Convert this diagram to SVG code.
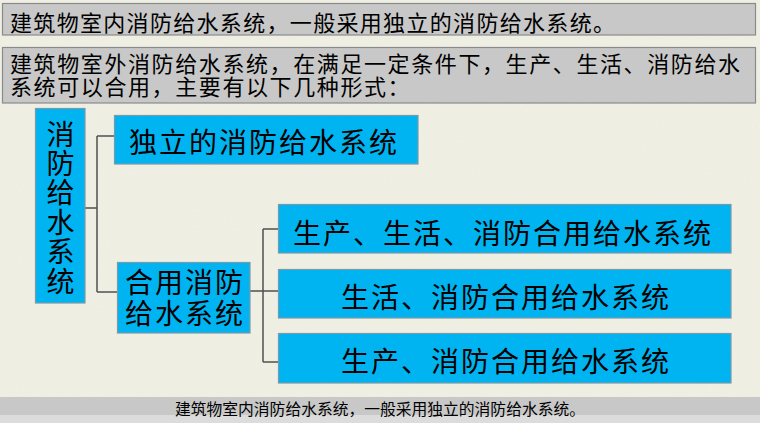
<svg xmlns="http://www.w3.org/2000/svg" width="760" height="423" viewBox="0 0 760 423">
<defs>
<filter id="tex" x="0" y="0" width="100%" height="100%">
<feTurbulence type="fractalNoise" baseFrequency="0.9" numOctaves="2" seed="3" result="n"/>
<feColorMatrix in="n" type="matrix" values="0 0 0 0 0.55  0 0 0 0 0.55  0 0 0 0 0.5  0 0 0 0.12 0"/>
</filter>
</defs>
<style>
text{font-family:"Noto Sans CJK SC","Noto Sans CJK JP",sans-serif;fill:#000;dominant-baseline:central}
.gray{fill:#c8c8c8;stroke:#8a8a8a;stroke-width:1.2}
.blue{fill:#00b4f2;stroke:#7a9aa8;stroke-width:1.2}
.t22{font-size:22px}
.t28{font-size:28px;letter-spacing:2px}
.conn{fill:none;stroke:#505050;stroke-width:1.5}
</style>
<rect width="760" height="423" fill="#f2f1e6"/>
<rect width="760" height="423" filter="url(#tex)"/>
<g id="note1">
<rect class="gray" x="2.5" y="3.5" width="753" height="31.5"/>
<text class="t22" x="10" y="21" textLength="605" lengthAdjust="spacing">建筑物室内消防给水系统，一般采用独立的消防给水系统。</text>
</g>
<g id="note2">
<rect class="gray" x="2.5" y="47.5" width="753" height="55.5"/>
<text class="t22" style="letter-spacing:1.6px"><tspan x="10" y="62">建筑物室外消防给水系统，在满足一定条件下，生产、生活、消防给水</tspan><tspan x="10" y="84.5">系统可以合用，主要有以下几种形式：</tspan></text>
</g>
<g id="connectors">
<path class="conn" d="M85 208H97M97 136V292M97 136H114M97 292H117"/>
<path class="conn" d="M250 291H278M263 229V362M263 229H278M263 362H278"/>
</g>
<g id="root">
<rect class="blue" x="35.5" y="108.5" width="49.5" height="194.5"/>
<text x="60.5" y="120" style="font-size:28px;writing-mode:vertical-rl;letter-spacing:1.4px;dominant-baseline:auto">消防给水系统</text>
</g>
<g id="independent">
<rect class="blue" x="114.5" y="115.5" width="303.5" height="48.5"/>
<text class="t28" x="129" y="141">独立的消防给水系统</text>
</g>
<g id="combined">
<rect class="blue" x="117.5" y="262.5" width="132.5" height="70.5"/>
<text class="t28"><tspan x="125" y="281">合用消防</tspan><tspan x="125" y="312">给水系统</tspan></text>
</g>
<g id="combo1">
<rect class="blue" x="278.5" y="204.5" width="452.5" height="48.5"/>
<text class="t28" x="293" y="232">生产、生活、消防合用给水系统</text>
</g>
<g id="combo2">
<rect class="blue" x="278.5" y="269.5" width="452.5" height="48.5"/>
<text class="t28" x="506" y="296" text-anchor="middle">生活、消防合用给水系统</text>
</g>
<g id="combo3">
<rect class="blue" x="278.5" y="333.5" width="452.5" height="49.5"/>
<text class="t28" x="506" y="360" text-anchor="middle">生产、消防合用给水系统</text>
</g>
<g id="footer">
<rect x="0" y="397" width="760" height="26" fill="#dcdcdc"/>
<rect x="0" y="397" width="760" height="18" fill="#c8c8c8"/>
<text x="380" y="408" text-anchor="middle" style="font-size:15.5px" textLength="410" lengthAdjust="spacingAndGlyphs">建筑物室内消防给水系统，一般采用独立的消防给水系统。</text>
</g>
</svg>
